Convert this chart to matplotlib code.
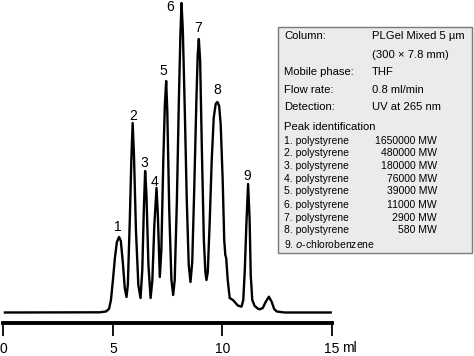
import numpy as np
import matplotlib.pyplot as plt
from matplotlib.patches import Rectangle

plt.rcParams["font.family"] = ["Liberation Sans", "DejaVu Sans"]

# chromatogram trace: elution volume (ml) and detector signal (a.u.)
volume_ml = [0.07, 4.40, 4.68, 4.82, 4.91, 5.00, 5.09, 5.18, 5.28, 5.36, 5.45, 5.54,
             5.62, 5.68, 5.77, 5.84, 5.90, 5.96, 6.05, 6.16, 6.26, 6.34, 6.41, 6.47,
             6.53, 6.62, 6.72, 6.80, 6.89, 6.99, 7.05, 7.14, 7.21, 7.30, 7.37, 7.43,
             7.48, 7.57, 7.67, 7.75, 7.82, 7.92, 8.01, 8.08, 8.13, 8.19, 8.28, 8.37,
             8.46, 8.54, 8.62, 8.71, 8.81, 8.87, 8.92, 8.98, 9.06, 9.15, 9.22, 9.27,
             9.33, 9.42, 9.51, 9.60, 9.69, 9.77, 9.85, 9.92, 10.01, 10.08, 10.13, 10.17,
             10.24, 10.33, 10.40, 10.48, 10.56, 10.70, 10.87, 10.95, 11.02, 11.09, 11.17,
             11.24, 11.29, 11.36, 11.47, 11.61, 11.70, 11.84, 11.97, 12.12, 12.25, 12.36,
             12.48, 12.84, 14.94]
signal = [0, 0.2, 1, 3.5, 12.5, 32.5, 54.5, 70.5, 75.5, 71.5, 50.5, 24.5,
          15.5, 27.5, 92.5, 152.5, 189.5, 157.5, 82.5, 27.5, 14.5, 42.5, 102.5, 141.5,
          117.5, 47.5, 14.5, 32.5, 87.5, 124.5, 97.5, 35.5, 62.5, 152.5, 207.5, 231.5,
          202.5, 102.5, 32.5, 17.5, 32.5, 112.5, 212.5, 277.5, 309.5, 282.5, 202.5, 112.5,
          47.5, 30.5, 50.5, 122.5, 212.5, 257.5, 273.5, 252.5, 162.5, 72.5, 40.5, 32.5,
          40.5, 92.5, 152.5, 194.5, 208.5, 210.5, 206.5, 187.5, 132.5, 72.5, 57.5, 54.5,
          32.5, 14.5, 13.5, 12.5, 10.5, 7, 5.8, 12.5, 42.5, 87.5, 128.5,
          92.5, 37.5, 12.5, 6.5, 4, 3.2, 4.5, 10.5, 15.8, 10.5, 3.5,
          1, 0, 0]

# peak numbers and where they sit (label centre, ml / signal)
peak_labels = ["1", "2", "3", "4", "5", "6", "7", "8", "9"]
label_ml = [5.23, 5.91, 6.41, 6.91, 7.32, 7.60, 8.87, 9.74, 11.15]
label_sig = [85.5, 196.5, 149.5, 130.5, 241.5, 305.5, 284.5, 222.5, 136.5]

xticks = [0, 5, 10, 15]

cond_names = ["Column:", "", "Mobile phase:", "Flow rate:", "Detection:"]
cond_values = ["PLGel Mixed 5 \u00b5m", "(300 \u00d7 7.8 mm)", "THF", "0.8 ml/min", "UV at 265 nm"]

peak_names = ["1. polystyrene", "2. polystyrene", "3. polystyrene", "4. polystyrene",
              "5. polystyrene", "6. polystyrene", "7. polystyrene", "8. polystyrene",
              "9. $\\it{o}$-chlorobenzene"]
peak_mw = ["1650000 MW", "480000 MW", "180000 MW", "76000 MW", "39000 MW",
           "11000 MW", "2900 MW", "580 MW", ""]

W, H = 474, 356
fig = plt.figure(figsize=(W / 100, H / 100), dpi=100)
ax = fig.add_axes([0, 33 / H, 1, 323 / H])

ax.plot(volume_ml, signal, color="black", lw=1.7, solid_joinstyle="round")
for lab, x, y in zip(peak_labels, label_ml, label_sig):
    ax.text(x, y, lab, ha="center", va="center", fontsize=10)

px_per_ml = (332 - 3.4) / 15
ax.set_xlim(-3.4 / px_per_ml, 15 + (W - 332) / px_per_ml)
ax.set_ylim(-10.5, 312.5)

for s in ["top", "right", "left"]:
    ax.spines[s].set_visible(False)
ax.spines["bottom"].set_linewidth(2.8)
ax.spines["bottom"].set_bounds(0, 15)
ax.set_yticks([])
ax.set_xticks(xticks)
ax.set_xticklabels([str(t) for t in xticks])
ax.tick_params(axis="x", direction="out", length=9.5, width=1.3, pad=4.5, labelsize=10)


def fx(px):
    return px / W


def fy(py):
    return 1 - py / H


fig.text(fx(342), fy(348), "ml", fontsize=10, ha="left", va="center")

fig.patches.append(Rectangle((fx(278), fy(253)), fx(472) - fx(278), fy(27) - fy(253),
                             transform=fig.transFigure, facecolor="#ebebeb",
                             edgecolor="#7a7a7a", lw=1.0))

rows_y = [36, 55, 72, 90, 107]
for name, val, y in zip(cond_names, cond_values, rows_y):
    fig.text(fx(284), fy(y), name, fontsize=8.1, va="center", ha="left")
    fig.text(fx(372), fy(y), val, fontsize=8.1, va="center", ha="left")

fig.text(fx(284), fy(127), "Peak identification", fontsize=8.1, va="center", ha="left")
list_y = [141, 153, 166, 179, 191, 205, 218, 230, 244]
for name, mw, y in zip(peak_names, peak_mw, list_y):
    fig.text(fx(284), fy(y), name, fontsize=7.5, va="center", ha="left")
    fig.text(fx(437), fy(y), mw, fontsize=7.5, va="center", ha="right")

fig.savefig("out.png", dpi=100)
